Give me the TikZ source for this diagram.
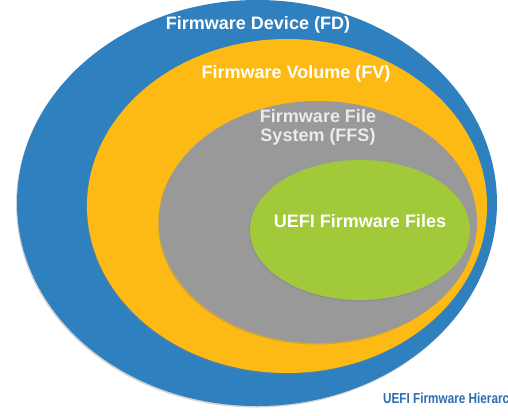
\documentclass[tikz,border=0pt]{standalone}
\usepackage{fontspec}
\setmainfont{Liberation Sans}
\usetikzlibrary{shapes.geometric,shadows}

\definecolor{fdblue}{RGB}{46,128,190}
\definecolor{fvorange}{RGB}{253,186,21}
\definecolor{ffsgray}{RGB}{153,153,153}
\definecolor{filegreen}{RGB}{162,201,58}
\definecolor{captionblue}{RGB}{44,110,178}

\tikzset{
	layer/.style={ellipse, draw=none, inner sep=0pt,
		drop shadow={opacity=0.35, shadow xshift=-1pt, shadow yshift=-1.5pt}},
	layertext/.style={text=white, font=\fontsize{18}{20}\selectfont\bfseries, align=center},
}

\begin{document}
\begin{tikzpicture}[x=1pt, y=-1pt]
\useasboundingbox (0,0) rectangle (508,415);

% LAYERS
\node[layer, fill=fdblue, minimum width=480pt, minimum height=406pt] (fd) at (257,203) {};
\node[layer, fill=fvorange, minimum width=400pt, minimum height=334pt] (fv) at (287,206) {};
\node[layer, fill=ffsgray, minimum width=318pt, minimum height=242pt] (ffs) at (318,222) {};
\node[layer, fill=filegreen, minimum width=220pt, minimum height=140pt] (files) at (360,230) {};

% LABELS
\node[layertext] (fdlabel) at (258,25) {Firmware Device (FD)};
\node[layertext] (fvlabel) at (296,74) {Firmware Volume (FV)};
\node[layertext, text=black!8, font=\fontsize{18}{19}\selectfont\bfseries] (ffslabel) at (318,127) {Firmware File\\System (FFS)};
\node[layertext] (fileslabel) at (360,221) {UEFI Firmware Files};

% CAPTION
\node[anchor=base west, text=captionblue, inner sep=0pt, xscale=0.81,
	font=\fontsize{14.5}{15}\selectfont\bfseries] (caption) at (383,403) {UEFI Firmware Hierarc};

\end{tikzpicture}
\end{document}
